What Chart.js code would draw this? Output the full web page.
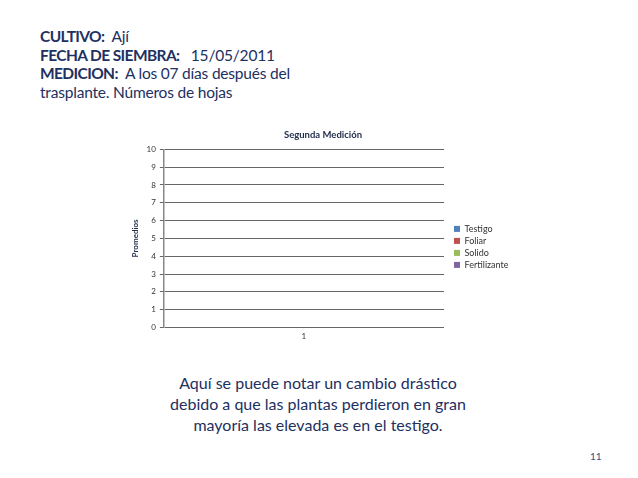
<!DOCTYPE html>
<html>
<head>
<meta charset="utf-8">
<script src="https://cdn.jsdelivr.net/npm/chart.js@4/dist/chart.umd.min.js"></script>
<style>
  html, body { margin: 0; padding: 0; background: #fff; }
  body { width: 638px; height: 478px; position: relative; overflow: hidden; font-family: "Lato", sans-serif; color: #22305f; }
  .head { position: absolute; left: 40px; top: 27px; font-size: 15.5px; line-height: 18.5px; letter-spacing: -0.2px; }
  .head b { font-weight: 700; letter-spacing: -0.6px; }
  .note { position: absolute; left: 120px; width: 396px; top: 372px; text-align: center; font-size: 16px; line-height: 21px; }
  .page { position: absolute; left: 590px; top: 450px; font-size: 10px; color: #3a4f8a; }
  #wrap { position: absolute; left: 110px; top: 125px; width: 410px; height: 220px; }
</style>
</head>
<body>
<div class="head">
  <b>CULTIVO:</b>&nbsp; Ají<br>
  <b>FECHA DE SIEMBRA:</b>&nbsp;&nbsp; 15/05/2011<br>
  <b>MEDICION:</b>&nbsp; A los 07 días después del<br>
  trasplante. Números de hojas
</div>
<div id="wrap"><canvas id="chart"></canvas></div>
<div class="note">Aquí se puede notar un cambio drástico<br>debido a que las plantas perdieron en gran<br>mayoría las elevada es en el testigo.</div>
<div class="page">11</div>
<script>
// chart data
const categories = ["1"];
const seriesNames = ["Testigo", "Foliar", "Solido", "Fertilizante"];
const testigo = [0];
const foliar = [0];
const solido = [0];
const fertilizante = [0];
const yTicks = [0, 1, 2, 3, 4, 5, 6, 7, 8, 9, 10];

const colors = ["#4F81BD", "#C0504D", "#9BBB59", "#8064A2"];
const values = [testigo, foliar, solido, fertilizante];

const ctx = document.getElementById("chart").getContext("2d");
new Chart(ctx, {
  type: "bar",
  data: {
    labels: categories,
    datasets: seriesNames.map((name, i) => ({
      label: name,
      data: values[i],
      backgroundColor: colors[i]
    }))
  },
  options: {
    responsive: true,
    maintainAspectRatio: false,
    animation: false,
    layout: { padding: { left: 21, right: 5, top: 0, bottom: 0 } },
    plugins: {
      title: {
        display: true,
        text: "Segunda Medición",
        color: "#1f2a4a",
        font: { family: "Lato", size: 9.5, weight: "bold" },
        padding: { top: 4, bottom: 9 }
      },
      legend: {
        position: "right",
        align: "center",
        title: { display: true, text: " ", font: { size: 9 }, padding: { top: 13, bottom: 0 } },
        labels: {
          boxWidth: 6,
          boxHeight: 6,
          padding: 3,
          color: "#333",
          font: { family: "Lato", size: 9 }
        }
      },
      tooltip: { enabled: false }
    },
    scales: {
      x: {
        grid: { display: false, drawTicks: false },
        border: { display: false },
        ticks: { color: "#333", font: { family: "Lato", size: 8 }, padding: 4 }
      },
      y: {
        min: 0,
        max: 10,
        afterBuildTicks: axis => { axis.ticks = yTicks.map(v => ({ value: v })); },
        grid: { color: "#666", lineWidth: 1, tickLength: 4 },
        border: { display: true, color: "#888", width: 1.5 },
        ticks: { color: "#333", font: { family: "Lato", size: 8 }, padding: 4 },
        title: {
          display: true,
          text: "Promedios",
          color: "#1f2a4a",
          font: { family: "Lato", size: 8, weight: "bold" },
          padding: { top: 0, bottom: 2 }
        }
      },
      // blank spacer axis on the right, keeps the legend off the plot
      gap: {
        position: "right",
        min: 0,
        max: 10,
        grid: { display: false, drawTicks: false },
        border: { display: false },
        ticks: { display: false },
        afterFit: s => { s.width = 7; }
      }
    }
  }
});
</script>
</body>
</html>
